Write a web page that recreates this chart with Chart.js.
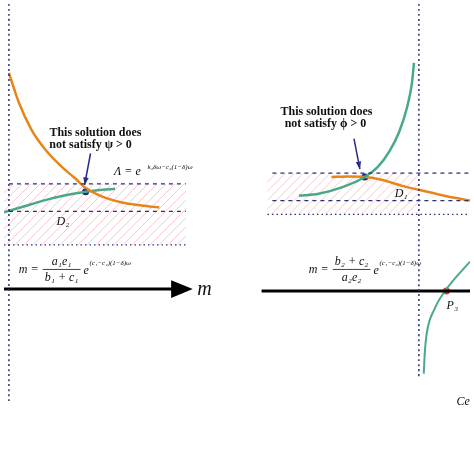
<!DOCTYPE html>
<html><head><meta charset="utf-8">
<script src="https://cdn.jsdelivr.net/npm/chart.js@4"></script>
<style>body{margin:0;background:#fff}</style>
</head><body>
<canvas id="c" width="474" height="474"></canvas>
<script>
// curve points (x, y in picture units)
var orangeLeft = [[5,70],[15,100],[28,128],[42,148],[58,165],[72,177],[83,187],[100,196],[120,202],[140,205],[158,207]];
var greenLeft = [[0,212],[20,206],[40,200],[60,195],[83,191],[100,189],[113,188]];
var greenRight = [[300,195],[320,193],[345,186],[367,176],[380,166],[392,150],[402,130],[410,105],[415,80],[417,60]];
var orangeRight = [[333,176],[350,175.5],[367,176],[385,179],[405,185],[422,189],[448,195],[474,200]];
var greenLow = [[474,262],[450,290],[438,310],[430,335],[428,355],[427,376]];
var solutionDots = [[83,191],[367,176]];
var p3Dot = [[450,292]];

function pts(a){ return a.map(function(p){ return {x:p[0], y:p[1]}; }); }
function line(a, color, w, dash){
  return {data: pts(a), showLine:true, borderColor:color, borderWidth:w, borderDash:dash||[], pointRadius:0, tension:0.4, cubicInterpolationMode:"monotone", fill:false};
}
var navy = "#2b2f7a";
var datasets = [
  line([[5,0],[5,405]], navy, 1.5, [2,3]),
  line([[422,0],[422,381]], navy, 1.5, [2,3]),
  line([[5,183],[185,183]], navy, 1.2, [4,4]),
  line([[5,211],[185,211]], navy, 1.2, [4,4]),
  line([[0,245],[185,245]], navy, 1.2, [1.5,3]),
  line([[273,172],[474,172]], navy, 1.2, [4,4]),
  line([[273,200],[474,200]], navy, 1.2, [4,4]),
  line([[268,214],[474,214]], navy, 1.2, [1.5,3]),
  line([[0,290],[182,290]], "#000", 3),
  line([[262,292],[474,292]], "#000", 3),
  line(orangeLeft, "#e8851a", 2.5),
  line(greenLeft, "#4aa88a", 2.5),
  line(greenRight, "#4aa88a", 2.5),
  line(orangeRight, "#e8851a", 2.5),
  line(greenLow, "#4aa88a", 2),
  {data: pts(solutionDots), pointRadius:3.5, pointBackgroundColor:"#1f237a", pointBorderWidth:0},
  {data: pts(p3Dot), pointRadius:3.5, pointBackgroundColor:"#e03030", pointBorderWidth:0}
];

var extras = {
  id: "extras",
  beforeDatasetsDraw: function(chart){
    var c = chart.ctx, sx = chart.scales.x, sy = chart.scales.y;
    function hatch(x0,y0,x1,y1){
      var a = sx.getPixelForValue(x0), b = sy.getPixelForValue(y0);
      var w = sx.getPixelForValue(x1)-a, h = sy.getPixelForValue(y1)-b;
      c.save(); c.beginPath(); c.rect(a,b,w,h); c.clip();
      c.strokeStyle = "rgba(235,140,150,0.6)"; c.lineWidth = 0.8;
      for (var i = -h; i < w + h; i += 9) { c.beginPath(); c.moveTo(a+i, b+h); c.lineTo(a+i+h, b); c.stroke(); }
      c.restore();
    }
    hatch(0,183,185,245);
    hatch(268,172,422,214);
  },
  afterDatasetsDraw: function(chart){
    var c = chart.ctx, sx = chart.scales.x, sy = chart.scales.y;
    function X(v){ return sx.getPixelForValue(v); }
    function Y(v){ return sy.getPixelForValue(v); }
    function arrow(x0,y0,x1,y1,col){
      c.save(); c.strokeStyle = col; c.fillStyle = col; c.lineWidth = 1.5;
      c.beginPath(); c.moveTo(X(x0),Y(y0)); c.lineTo(X(x1),Y(y1)); c.stroke();
      var ang = Math.atan2(Y(y1)-Y(y0), X(x1)-X(x0));
      c.beginPath(); c.moveTo(X(x1),Y(y1));
      c.lineTo(X(x1)-8*Math.cos(ang-0.35), Y(y1)-8*Math.sin(ang-0.35));
      c.lineTo(X(x1)-8*Math.cos(ang+0.35), Y(y1)-8*Math.sin(ang+0.35));
      c.closePath(); c.fill(); c.restore();
    }
    // m = num/den e^sup
    function formula(x, y, num, den, sup){
      c.save(); c.fillStyle = "#111"; c.textBaseline = "middle"; c.textAlign = "left";
      c.font = "italic 12px 'Liberation Serif'";
      c.fillText("m =", X(x), Y(y));
      var fx = X(x) + 24, fw = Math.max(c.measureText(num).width, c.measureText(den).width) + 4;
      c.textAlign = "center";
      c.fillText(num, fx + fw/2, Y(y) - 8);
      c.fillText(den, fx + fw/2, Y(y) + 8);
      c.strokeStyle = "#111"; c.lineWidth = 0.8;
      c.beginPath(); c.moveTo(fx, Y(y)); c.lineTo(fx + fw, Y(y)); c.stroke();
      c.textAlign = "left";
      c.fillText("e", fx + fw + 3, Y(y) + 1);
      c.font = "italic 7px 'Liberation Serif'";
      c.fillText(sup, fx + fw + 9, Y(y) - 6);
      c.restore();
    }
    arrow(88,152,82,184,"#2a2a8a");
    arrow(356,137,362,168,"#2a2a8a");
    c.save(); c.fillStyle = "#000"; c.beginPath();
    c.moveTo(X(192),Y(290)); c.lineTo(X(170),Y(281)); c.lineTo(X(170),Y(299)); c.closePath(); c.fill(); c.restore();

    c.save(); c.fillStyle = "#111"; c.textAlign = "center"; c.textBaseline = "middle";
    c.font = "bold 12px 'Liberation Serif'";
    c.fillText("This solution does", X(93), Y(131));
    c.fillText("not satisfy \u03C8 > 0", X(88), Y(143));
    c.fillText("This solution does", X(328), Y(110));
    c.fillText("not satisfy \u03D5 > 0", X(327), Y(122));
    c.font = "italic 12px 'Liberation Serif'";
    c.fillText("D\u2082", X(60), Y(222));
    c.fillText("D\u2081", X(404), Y(193));
    c.fillText("P\u2083", X(456), Y(307));
    c.fillText("Ce", X(467), Y(405));
    c.textAlign = "left";
    c.fillText("\u039B = e", X(112), Y(171));
    c.font = "italic 7px 'Liberation Serif'";
    c.fillText("k\u2082\u03B4\u03C9\u2212c\u2082(1\u2212\u03B4)\u03C9", X(146), Y(166));
    c.font = "italic 20px 'Liberation Serif'";
    c.textAlign = "center";
    c.fillText("m", X(204), Y(291));
    c.restore();
    formula(15, 270, "a\u2081e\u2081", "b\u2081 + c\u2081", "(c\u2081\u2212c\u2082)(1\u2212\u03B4)\u03C9");
    formula(310, 270, "b\u2082 + c\u2082", "a\u2082e\u2082", "(c\u2081\u2212c\u2082)(1\u2212\u03B4)\u03C9");
  }
};

new Chart(document.getElementById("c").getContext("2d"), {
  type: "scatter",
  data: {datasets: datasets},
  options: {
    responsive: false,
    animation: false,
    layout: {padding: 0},
    plugins: {legend: {display: false}, tooltip: {enabled: false}},
    scales: {
      x: {type: "linear", min: 0, max: 474, display: false},
      y: {type: "linear", min: 0, max: 474, reverse: true, display: false}
    }
  },
  plugins: [extras]
});
</script>
</body></html>
